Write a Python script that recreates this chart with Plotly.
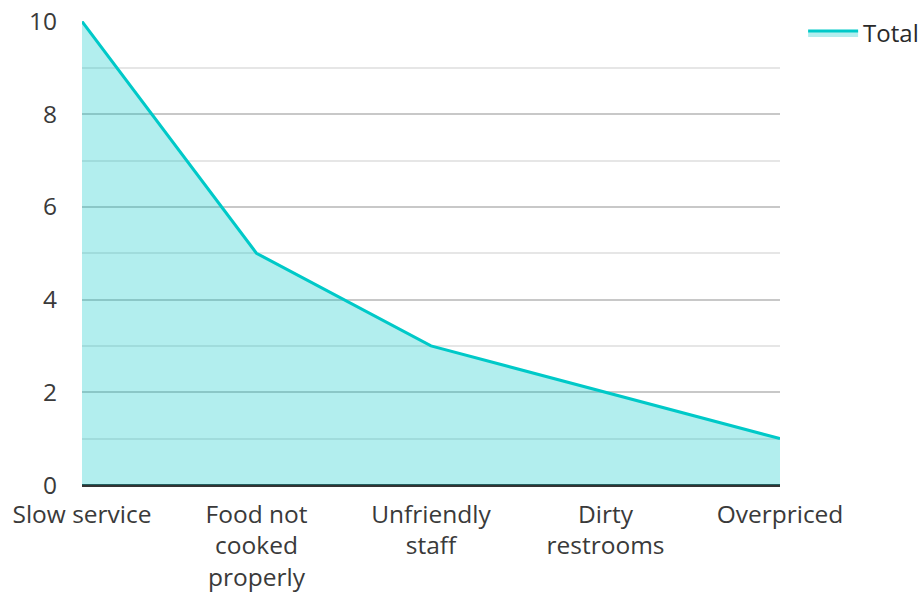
import plotly.graph_objects as go

categories = ["Slow service", "Food not<br>cooked<br>properly", "Unfriendly<br>staff", "Dirty<br>restrooms", "Overpriced"]
values = [10, 5, 3, 2, 1]
y_ticks = [0, 2, 4, 6, 8, 10]

fig = go.Figure()
fig.add_trace(go.Scatter(
    x=list(range(len(categories))), y=values, mode="lines", name="Total",
    line=dict(color="#00C9C8", width=3),
    fill="tozeroy", fillcolor="rgba(0,200,198,0.30)",
))
fig.update_layout(
    width=921, height=594,
    margin=dict(l=82, r=141, t=21, b=109),
    paper_bgcolor="white", plot_bgcolor="white",
    font=dict(family="Open Sans", size=24.5, color="#3a3a3a"),
    showlegend=True,
    legend=dict(xref="container", yref="container", x=0.872, y=0.9815, xanchor="left", yanchor="top",
                font=dict(size=24, color="#2a2a2a"), itemwidth=50, bgcolor="rgba(0,0,0,0)"),
    xaxis=dict(range=[0, 4], tickmode="array", tickvals=list(range(len(categories))), ticktext=categories,
               showgrid=False, zeroline=False, showline=False, ticks="", automargin=False,
               ticklabelstandoff=12),
    yaxis=dict(range=[0, 10.01], tickmode="array", tickvals=y_ticks, showgrid=True, gridcolor="#c8c8c8", gridwidth=1.5,
               zeroline=True, zerolinecolor="#333333", zerolinewidth=3, ticks="", automargin=False,
               ticklabelstandoff=24, ticklabeloverflow="allow",
               minor=dict(dtick=1, showgrid=True, gridcolor="#e6e6e6", gridwidth=1.5, tick0=0)),
)
fig.write_html("out.html", config={"displayModeBar": False},
               post_script="document.body.style.margin='0px';document.body.style.overflow='hidden';")
